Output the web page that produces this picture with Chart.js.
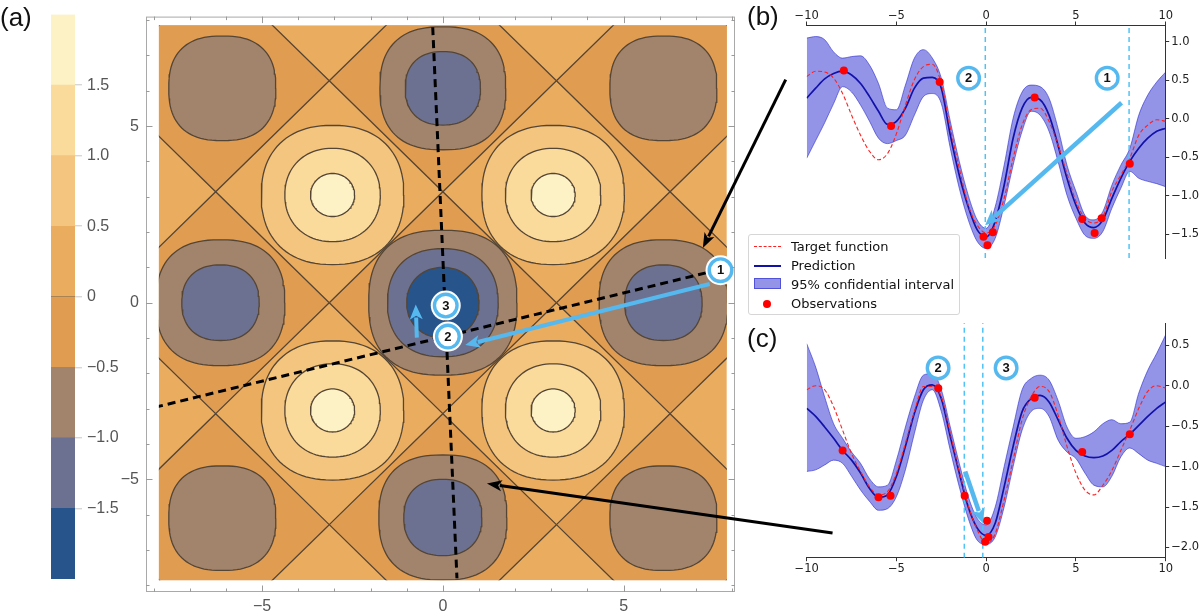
<!DOCTYPE html>
<html>
<head>
<meta charset="utf-8">
<title>Bayesian optimisation on a 2D test surface</title>
<script src="https://cdn.jsdelivr.net/npm/chart.js@4.4.1/dist/chart.umd.min.js"></script>
<style>
  html, body { margin: 0; padding: 0; background: #fff; }
  body { position: relative; width: 1200px; height: 614px; overflow: hidden; font-family: "Liberation Sans", Arial, sans-serif; }
  canvas { position: absolute; }
  .tag { position: absolute; font-size: 26px; color: #111; line-height: 1; }
  #legend { position: absolute; left: 748px; top: 234px; width: 212px; height: 81px; box-sizing: border-box;
            border: 1px solid #d6d6d6; border-radius: 3px; background: rgba(255,255,255,0.85);
            font-family: "DejaVu Sans", sans-serif; font-size: 13px; color: #111; }
  #legend div { position: absolute; left: 42px; height: 19px; line-height: 19px; white-space: nowrap; }
  #legend i { position: absolute; left: -37px; width: 27px; display: block; }
</style>
</head>
<body>
<canvas id="cb" width="140" height="614" style="left:0;top:0"></canvas>
<canvas id="map" width="660" height="614" style="left:100px;top:0"></canvas>
<canvas id="gpB" width="460" height="310" style="left:740px;top:0"></canvas>
<canvas id="gpC" width="460" height="304" style="left:740px;top:310px"></canvas>
<div id="legend">
  <div style="top:2px"><i style="top:9px;border-top:1.5px dashed #ff2020"></i>Target function</div>
  <div style="top:21px"><i style="top:8.5px;border-top:2px solid #1212aa"></i>Prediction</div>
  <div style="top:40px"><i style="top:3px;height:11px;box-sizing:border-box;background:rgba(30,30,205,0.48);border:1px solid rgba(30,30,200,0.55)"></i>95% confidential interval</div>
  <div style="top:59px"><i style="top:5.5px;left:-28px;width:8px;height:8px;border-radius:50%;background:#ff0000"></i>Observations</div>
</div>
<canvas id="over" width="1200" height="614" style="left:0;top:0;pointer-events:none"></canvas>
<div class="tag" style="left:0;top:4px">(a)</div>
<div class="tag" style="left:747px;top:3px">(b)</div>
<div class="tag" style="left:747px;top:325px">(c)</div>

<script>
/* ===== (a) colour bar ===== */
const cbLevels = [-1.5, -1.0, -0.5, 0, 0.5, 1.0, 1.5];
const cbBands = [[-2, -1.5], [-1.5, -1], [-1, -0.5], [-0.5, 0], [0, 0.5], [0.5, 1], [1, 1.5], [1.5, 2]];
const bandColours = ['#27548a', '#6c7191', '#a2846c', '#e09c50', '#eaac5f', '#f3c57e', '#fbdb9b', '#fdf2c5'];

/* ===== (a) contour map ===== */
const mapTicks = [-5, 0, 5];
const mapFrameTicks = [-8, -7, -6, -5, -4, -3, -2, -1, 0, 1, 2, 3, 4, 5, 6, 7, 8];
const plotHalf = 2.5 * Math.PI;                       // plotted domain is [-2.5pi, 2.5pi]^2
const zeroDiamondX = [-2 * Math.PI, 0, 2 * Math.PI];  // zero contours: diagonals through saddles at odd multiples of pi
const zeroDiamondY = [-2 * Math.PI, 0, 2 * Math.PI];
const pitX = [0, -6.15, 6.1, 0, 0, -6.1, 6.1, -6.1, 6.1];
const pitY = [0, 0, 0, 6.07, -6.08, 6.07, 6.07, -6.1, -6.1];
const pitRadii = [[2.05, 1.53, 1.0], [1.78, 1.07], [1.78, 1.07], [1.74, 1.04], [1.77, 1.08], [1.48], [1.48], [1.48], [1.48]];
const peakX = [-3.05, 3.05, -3.05, 3.05];
const peakY = [3.05, 3.05, -3.05, -3.05];
const peakRadii = [1.97, 1.32, 0.61];                 // contours 0.5, 1.0, 1.5
const cutBX = [-7.96, 7.66], cutBY = [-2.96, 0.94];
const cutCX = [-0.28, 0.39], cutCY = [7.8, -7.8];
const stepFromX = [7.38, -0.72], stepFromY = [0.53, -0.99];
const stepToX = [0.62, -0.75], stepToY = [-1.2, -0.05];
const markX = [7.68, 0.14, 0.08], markY = [0.92, -0.96, -0.08], markText = ['1', '2', '3'];

/* ===== (b) and (c) Gaussian-process slices ===== */
const gpX = [-10, -9.5, -9, -8.5, -8, -7.5, -7, -6.5, -6, -5.5, -5, -4.5, -4, -3.5, -3, -2.5, -2, -1.5, -1, -0.5,
             0, 0.5, 1, 1.5, 2, 2.5, 3, 3.5, 4, 4.5, 5, 5.5, 6, 6.5, 7, 7.5, 8, 8.5, 9, 9.5, 10];
const gpTicks = [-10, -5, 0, 5, 10];

const bTarget = [0.55, 0.62, 0.61, 0.53, 0.33, 0.05, -0.21, -0.42, -0.53, -0.45, -0.19, 0.18, 0.51, 0.68, 0.71, 0.46, -0.12, -0.64, -1.12, -1.38,
                 -1.48, -1.38, -1.03, -0.51, -0.08, 0.12, 0.14, -0.03, -0.34, -0.71, -1.07, -1.29, -1.35, -1.27, -0.94, -0.73, -0.51, -0.21, -0.08, -0.01, -0.03];
const bMean = [0.27, 0.40, 0.52, 0.59, 0.62, 0.57, 0.46, 0.29, 0.10, -0.07, -0.03, 0.14, 0.40, 0.53, 0.54, 0.40, -0.21, -0.73, -1.14, -1.44,
               -1.53, -1.33, -0.86, -0.25, 0.14, 0.28, 0.25, 0.05, -0.34, -0.77, -1.12, -1.35, -1.41, -1.31, -1.03, -0.77, -0.55, -0.38, -0.25, -0.16, -0.12];
const bUpper = [1.05, 1.07, 1.03, 0.87, 0.79, 0.81, 0.82, 0.70, 0.46, 0.14, 0.12, 0.44, 0.79, 0.90, 0.79, 0.53, -0.03, -0.55, -0.99, -1.31,
                -1.42, -1.14, -0.60, 0.01, 0.35, 0.44, 0.42, 0.27, -0.12, -0.60, -0.94, -1.25, -1.31, -1.20, -0.86, -0.60, -0.38, 0.05, 0.31, 0.48, 0.61];
const bLower = [-0.51, -0.28, -0.05, 0.20, 0.42, 0.35, 0.18, -0.03, -0.25, -0.32, -0.28, -0.21, 0.05, 0.29, 0.33, 0.20, -0.38, -0.90, -1.31, -1.59,
                -1.68, -1.55, -1.12, -0.60, -0.16, 0.10, 0.05, -0.16, -0.55, -0.99, -1.29, -1.51, -1.55, -1.46, -1.16, -0.90, -0.68, -0.77, -0.81, -0.84, -0.88];
const bObsX = [-7.93, -5.3, -2.59, -0.15, 0.07, 0.37, 2.7, 5.35, 6.04, 6.43, 8.0];
const bObsY = [0.63, -0.09, 0.48, -1.53, -1.64, -1.47, 0.28, -1.30, -1.48, -1.29, -0.58];
const bPicks = [-0.05, 7.96];
const bYTicks = [-1.5, -1.0, -0.5, 0.0, 0.5, 1.0];

const cTarget = [-0.05, 0.0, -0.05, -0.26, -0.55, -0.84, -1.06, -1.25, -1.35, -1.31, -1.08, -0.71, -0.32, -0.01, -0.01, -0.14, -0.59, -1.06, -1.48, -1.78,
                 -1.95, -1.83, -1.41, -0.92, -0.42, -0.14, -0.01, -0.07, -0.36, -0.75, -1.08, -1.29, -1.35, -1.23, -1.05, -0.80, -0.55, -0.28, -0.07, 0.0, -0.03];
const cMean = [-0.28, -0.38, -0.51, -0.65, -0.80, -0.92, -1.08, -1.27, -1.38, -1.35, -1.12, -0.75, -0.34, -0.05, 0.01, -0.16, -0.63, -1.08, -1.50, -1.76,
               -1.85, -1.70, -1.25, -0.75, -0.32, -0.16, -0.12, -0.20, -0.42, -0.65, -0.80, -0.87, -0.89, -0.87, -0.80, -0.69, -0.60, -0.49, -0.38, -0.28, -0.20];
const cUpper = [0.52, 0.23, -0.14, -0.47, -0.65, -0.82, -0.96, -1.15, -1.25, -1.23, -0.92, -0.51, -0.14, 0.13, 0.15, -0.05, -0.51, -0.96, -1.37, -1.64,
                -1.72, -1.50, -1.00, -0.51, -0.05, 0.09, 0.13, 0.07, -0.18, -0.51, -0.65, -0.63, -0.57, -0.47, -0.42, -0.47, -0.45, -0.09, 0.19, 0.40, 0.63];
const cLower = [-1.06, -1.04, -0.98, -0.92, -0.96, -1.12, -1.29, -1.43, -1.54, -1.52, -1.37, -1.04, -0.59, -0.18, -0.05, -0.32, -0.80, -1.25, -1.64, -1.91,
                -1.96, -1.87, -1.50, -1.00, -0.55, -0.32, -0.28, -0.38, -0.67, -0.82, -0.90, -1.08, -1.23, -1.25, -1.12, -0.88, -0.77, -0.84, -0.92, -0.96, -1.00];
const cObsX = [-8.0, -6.0, -5.33, -2.67, -1.2, -0.06, 0.04, 0.13, 2.7, 5.35, 8.0];
const cObsY = [-0.80, -1.38, -1.36, -0.03, -1.36, -1.93, -1.67, -1.87, -0.15, -0.82, -0.60];
const cPicks = [-1.22, -0.19];
const cYTicks = [-2.0, -1.5, -1.0, -0.5, 0.0, 0.5];

/* black arrows linking the slices to the map: start in the slice panel, end on the map */
const linkPanel = ['b', 'c'];
const linkFromX = [-11.17, -8.56], linkFromY = [0.51, -1.82];
const linkToX = [7.19, 1.22], linkToY = [1.55, -5.12];

/* ===== shared helpers ===== */
const contourInk = '#554535';
const pickBlue = '#55b9ef';
const minus = (v, d) => (v < 0 ? '\u2212' : '') + Math.abs(v).toFixed(d);

Chart.defaults.font.family = '"Liberation Sans", Arial, sans-serif';
Chart.defaults.animation = false;
Chart.defaults.events = [];
Chart.defaults.plugins.legend.display = false;
Chart.defaults.plugins.tooltip.enabled = false;

function arrow(ctx, x1, y1, x2, y2, colour, width, headLen, headWide) {
  const a = Math.atan2(y2 - y1, x2 - x1);
  const bx = x2 - headLen * Math.cos(a), by = y2 - headLen * Math.sin(a);
  ctx.save();
  ctx.strokeStyle = colour; ctx.fillStyle = colour; ctx.lineWidth = width;
  ctx.beginPath(); ctx.moveTo(x1, y1); ctx.lineTo(bx + 2 * Math.cos(a), by + 2 * Math.sin(a)); ctx.stroke();
  ctx.beginPath();
  ctx.moveTo(x2, y2);
  ctx.lineTo(bx + headWide / 2 * Math.sin(a), by - headWide / 2 * Math.cos(a));
  ctx.lineTo(bx + 0.25 * headLen * Math.cos(a), by + 0.25 * headLen * Math.sin(a));
  ctx.lineTo(bx - headWide / 2 * Math.sin(a), by + headWide / 2 * Math.cos(a));
  ctx.closePath(); ctx.fill();
  ctx.restore();
}

function marker(ctx, x, y, text, r, halo) {
  ctx.save();
  if (halo) { ctx.beginPath(); ctx.arc(x, y, r + 2, 0, 2 * Math.PI); ctx.fillStyle = '#fff'; ctx.fill(); }
  ctx.beginPath(); ctx.arc(x, y, r - 1.7, 0, 2 * Math.PI);
  ctx.fillStyle = '#fff'; ctx.fill();
  ctx.lineWidth = 3.4; ctx.strokeStyle = pickBlue; ctx.stroke();
  ctx.fillStyle = '#111'; ctx.font = 'bold 13px "Liberation Sans", Arial, sans-serif';
  ctx.textAlign = 'center'; ctx.textBaseline = 'middle';
  ctx.fillText(text, x, y + 0.5);
  ctx.restore();
}

/* ===== colour bar chart ===== */
new Chart(document.getElementById('cb'), {
  type: 'bar',
  data: {
    labels: [''],
    datasets: cbBands.map((b, i) => ({ data: [b], backgroundColor: bandColours[i], borderWidth: 0,
                                       grouped: false, barPercentage: 1, categoryPercentage: 1 }))
  },
  options: {
    responsive: false,
    layout: { padding: { left: 51, top: 13, bottom: 35, right: 0 } },
    scales: {
      x: { display: false },
      y: {
        position: 'right', min: -2, max: 2, z: 1,
        afterBuildTicks: s => { s.ticks = cbLevels.map(v => ({ value: v })); },
        afterFit: s => { s.width = 65; },
        grid: { color: '#6b5a48', lineWidth: 1.5, tickColor: '#d0d0d0', tickLength: 7, tickWidth: 1.2 },
        border: { display: false },
        ticks: { color: '#555', padding: 5, font: { size: 16 }, callback: v => (v === 0 ? '0' : minus(v, 1)) }
      }
    }
  }
});

/* ===== contour map: filled level regions as polygons ===== */
function superellipse(cx, cy, r, p) {
  const pts = [];
  for (let k = 0; k <= 96; k++) {
    const t = k / 96 * 2 * Math.PI, c = Math.cos(t), s = Math.sin(t);
    pts.push({ x: cx + r * Math.sign(c) * Math.pow(Math.abs(c), 2 / p),
               y: cy + r * Math.sign(s) * Math.pow(Math.abs(s), 2 / p) });
  }
  return pts;
}

const mapSets = [];
function addShape(points, colour, outlined) {
  mapSets.push({ data: points, fill: 'shape', backgroundColor: colour,
                 borderColor: outlined ? contourInk : 'rgba(0,0,0,0)', borderWidth: outlined ? 1.3 : 0 });
}

// level 0 .. 0.5 everywhere, then the -0.5 .. 0 diamonds around the pits
addShape([{ x: -plotHalf, y: -plotHalf }, { x: plotHalf, y: -plotHalf }, { x: plotHalf, y: plotHalf },
          { x: -plotHalf, y: plotHalf }, { x: -plotHalf, y: -plotHalf }], bandColours[4], false);
zeroDiamondX.forEach(cx => zeroDiamondY.forEach(cy => {
  const h = Math.PI;
  addShape([{ x: cx - h, y: cy }, { x: cx, y: cy + h }, { x: cx + h, y: cy }, { x: cx, y: cy - h }, { x: cx - h, y: cy }],
           bandColours[3], true);
}));
const pitShape = [2.5, 2.3, 2.1];
pitX.forEach((cx, i) => pitRadii[i].forEach((r, k) => addShape(superellipse(cx, pitY[i], r, pitShape[k]), bandColours[2 - k], true)));
const peakShape = [2.3, 2.15, 2.0];
peakX.forEach((cx, i) => peakRadii.forEach((r, k) => addShape(superellipse(cx, peakY[i], r, peakShape[k]), bandColours[5 + k], true)));

// the two slices of panels (b) and (c)
[[cutBX, cutBY], [cutCX, cutCY]].forEach(([xs, ys]) => {
  mapSets.push({ data: xs.map((x, i) => ({ x, y: ys[i] })), fill: false, borderColor: '#000', borderWidth: 3, borderDash: [8, 5] });
});
mapSets.forEach((s, i) => { s.order = 1000 - i; s.pointRadius = 0; });

const mapDecor = {
  id: 'mapDecor',
  beforeDatasetsDraw(chart) {
    const { ctx, scales: { x, y } } = chart;
    const l = x.getPixelForValue(-plotHalf), r = x.getPixelForValue(plotHalf);
    const t = y.getPixelForValue(plotHalf), b = y.getPixelForValue(-plotHalf);
    ctx.save();
    ctx.beginPath(); ctx.rect(l, t, r - l, b - t); ctx.clip();
  },
  afterDatasetsDraw(chart) {
    const { ctx, scales: { x, y } } = chart;
    ctx.restore();
    stepFromX.forEach((fx, i) => arrow(ctx, x.getPixelForValue(fx), y.getPixelForValue(stepFromY[i]),
      x.getPixelForValue(stepToX[i]), y.getPixelForValue(stepToY[i]), pickBlue, 4, 15, 13));
    markX.forEach((mx, i) => marker(ctx, x.getPixelForValue(mx), y.getPixelForValue(markY[i]), markText[i], 13, true));
  },
  afterDraw(chart) {
    const { ctx, chartArea: a, scales: { x, y } } = chart;
    ctx.save();
    ctx.strokeStyle = '#a9a9a9'; ctx.lineWidth = 1;
    ctx.strokeRect(a.left + 0.5, a.top + 0.5, a.right - a.left - 1, a.bottom - a.top - 1);
    ctx.strokeStyle = '#9a9a9a';
    ctx.beginPath();
    mapFrameTicks.forEach(v => {
      const len = mapTicks.includes(v) ? 6.5 : 3.5;
      const px = Math.round(x.getPixelForValue(v)) + 0.5, py = Math.round(y.getPixelForValue(v)) + 0.5;
      ctx.moveTo(px, a.bottom); ctx.lineTo(px, a.bottom - len);
      ctx.moveTo(px, a.top); ctx.lineTo(px, a.top + len);
      ctx.moveTo(a.left, py); ctx.lineTo(a.left + len, py);
      ctx.moveTo(a.right, py); ctx.lineTo(a.right - len, py);
    });
    ctx.stroke();
    ctx.restore();
  }
};

const mapChart = new Chart(document.getElementById('map'), {
  type: 'line',
  data: { datasets: mapSets },
  options: {
    responsive: false,
    layout: { padding: { left: 0, top: 3, right: 25, bottom: 0 } },
    elements: { line: { tension: 0 } },
    scales: {
      x: {
        type: 'linear', min: -8.21, max: 8.08,
        afterBuildTicks: s => { s.ticks = mapTicks.map(v => ({ value: v })); },
        afterFit: s => { s.height = 22; },
        grid: { drawOnChartArea: false, drawTicks: false }, border: { display: false },
        ticks: { color: '#555', padding: 5, maxRotation: 0, font: { size: 16 }, callback: v => minus(v, 0) }
      },
      y: {
        type: 'linear', min: -8.19, max: 8.10,
        afterBuildTicks: s => { s.ticks = mapTicks.map(v => ({ value: v })); },
        afterFit: s => { s.width = 46; },
        grid: { drawOnChartArea: false, drawTicks: false }, border: { display: false },
        ticks: { color: '#555', padding: 7, font: { size: 16 }, callback: v => minus(v, 0) }
      }
    }
  },
  plugins: [mapDecor]
});

/* ===== GP slice panels ===== */
const gpDecor = {
  id: 'gpDecor',
  afterDatasetsDraw(chart, args, o) {
    const { ctx, scales: { x, y } } = chart;
    arrow(ctx, x.getPixelForValue(o.fromX), y.getPixelForValue(o.fromY),
          x.getPixelForValue(o.toX), y.getPixelForValue(o.toY), pickBlue, 4.5, 15, 14);
    o.markX.forEach((mx, i) => marker(ctx, x.getPixelForValue(mx), y.getPixelForValue(o.markY[i]), o.markText[i], 12.5, false));
  }
};

function gpChart(id, cfg) {
  const pts = ys => gpX.map((x, i) => ({ x, y: ys[i] }));
  const sets = [
    { data: pts(cfg.upper), borderColor: 'rgba(30,30,200,0.55)', borderWidth: 1, backgroundColor: 'rgba(30,30,205,0.48)',
      fill: '+1', cubicInterpolationMode: 'monotone' },
    { data: pts(cfg.lower), borderColor: 'rgba(30,30,200,0.55)', borderWidth: 1, fill: false, cubicInterpolationMode: 'monotone' },
    ...cfg.picks.map(p => ({ data: [{ x: p, y: cfg.yMin }, { x: p, y: cfg.yMax }], borderColor: '#4fc3f7',
                             borderWidth: 1.5, borderDash: [5, 4], fill: false })),
    { data: pts(cfg.mean), borderColor: '#1212aa', borderWidth: 1.7, fill: false, cubicInterpolationMode: 'monotone' },
    { data: pts(cfg.target), borderColor: '#ff2020', borderWidth: 1.1, borderDash: [4, 2.5], fill: false, cubicInterpolationMode: 'monotone' },
    { data: cfg.obsX.map((x, i) => ({ x, y: cfg.obsY[i] })), showLine: false, pointRadius: 4,
      pointBackgroundColor: '#ff0000', pointBorderWidth: 0 }
  ];
  sets.forEach((s, i) => { s.order = 100 - i; if (s.pointRadius === undefined) s.pointRadius = 0; });

  const tickFont = { family: '"DejaVu Sans", sans-serif', size: 11.5 };
  return new Chart(document.getElementById(id), {
    type: 'line',
    data: { datasets: sets },
    options: {
      responsive: false,
      layout: { padding: cfg.padding },
      scales: {
        x: {
          type: 'linear', position: cfg.xPos, min: -10, max: 10,
          afterBuildTicks: s => { s.ticks = gpTicks.map(v => ({ value: v })); },
          afterFit: s => { s.height = cfg.xAxisH; },
          grid: { drawOnChartArea: false, color: '#333', tickLength: 3.5 }, border: { color: '#333' },
          ticks: { color: '#222', padding: cfg.xPad, maxRotation: 0, font: tickFont, callback: v => minus(v, 0) }
        },
        y: {
          type: 'linear', position: 'right', min: cfg.yMin, max: cfg.yMax,
          afterBuildTicks: s => { s.ticks = cfg.yTicks.map(v => ({ value: v })); },
          afterFit: s => { s.width = 34.3; },
          grid: { drawOnChartArea: false, color: '#333', tickLength: 3.5 }, border: { color: '#333' },
          ticks: { color: '#222', padding: 2, font: tickFont, callback: v => minus(v, 1) }
        }
      },
      plugins: { gpDecor: cfg.decor }
    },
    plugins: [gpDecor]
  });
}

const chartB = gpChart('gpB', {
  mean: bMean, upper: bUpper, lower: bLower, target: bTarget, obsX: bObsX, obsY: bObsY, picks: bPicks, yTicks: bYTicks,
  yMin: -1.805, yMax: 1.22, xPos: 'top', xAxisH: 25, xPad: -1, padding: { left: 66.7, top: 0, right: 0, bottom: 52 },
  decor: { fromX: 7.54, fromY: 0.21, toX: -0.06, toY: -1.38, markX: [-0.98, 6.74], markY: [0.53, 0.53], markText: ['2', '1'] }
});
const chartC = gpChart('gpC', {
  mean: cMean, upper: cUpper, lower: cLower, target: cTarget, obsX: cObsX, obsY: cObsY, picks: cPicks, yTicks: cYTicks,
  yMin: -2.126, yMax: 0.775, xPos: 'bottom', xAxisH: 56.3, xPad: 1, padding: { left: 66.7, top: 13, right: 0, bottom: 0 },
  decor: { fromX: -1.17, fromY: -1.06, toX: -0.18, toY: -1.70, markX: [-2.68, 1.11], markY: [0.22, 0.22], markText: ['2', '3'] }
});

/* ===== overlay: arrows from the slice panels back onto the map ===== */
const over = document.getElementById('over').getContext('2d');
const panels = { b: [chartB, 740, 0], c: [chartC, 740, 310] };
linkPanel.forEach((p, i) => {
  const [ch, ox, oy] = panels[p];
  const x1 = ch.scales.x.getPixelForValue(linkFromX[i]) + ox, y1 = ch.scales.y.getPixelForValue(linkFromY[i]) + oy;
  const x2 = mapChart.scales.x.getPixelForValue(linkToX[i]) + 100, y2 = mapChart.scales.y.getPixelForValue(linkToY[i]);
  arrow(over, x1, y1, x2, y2, '#000', 3, 15, 11);
});
</script>
</body>
</html>
